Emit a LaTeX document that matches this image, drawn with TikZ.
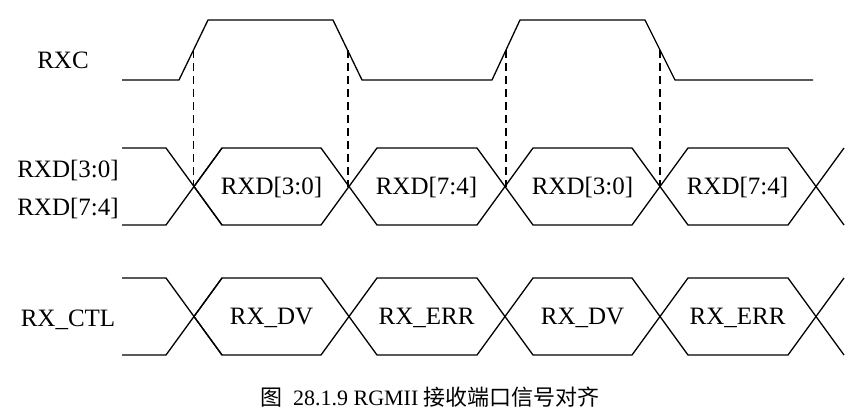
\documentclass[tikz,border=0pt]{standalone}
\usepackage{fontspec}
\setmainfont{Liberation Serif}
\newfontfamily\cjk{Noto Sans CJK SC}
\begin{document}
\begin{tikzpicture}[x=1pt,y=-1pt,line width=1.3pt,
  sig/.style={draw=black},
  guide/.style={draw=black,line width=1.3pt,dash pattern=on 8pt off 5pt},
  lbl/.style={font=\fontsize{25}{28}\selectfont,inner sep=0pt}]
\useasboundingbox (0,0) rectangle (859,420);
% RXC
\draw[sig] (122,80) -- (179,80) -- (208,20) -- (333,20) -- (362,80) -- (492,80) -- (520,20) -- (645,20) -- (675,80) -- (813,80);
\node[lbl] (rxc) at (63,60) {RXC};
\foreach \yt/\yb/\n in {148/225/d,278/355/c}{
  \pgfmathsetmacro\ym{(\yt+\yb)/2}
  \draw[sig] (122,\yt) -- (166,\yt) -- (222,\yb);
  \draw[sig] (122,\yb) -- (166,\yb) -- (222,\yt);
  \foreach \a/\b in {194/349,349/505,505/660,660/816}{
    \draw[sig] (\a,\ym) -- (\a+28,\yt) -- (\b-28,\yt) -- (\b,\ym) -- (\b-28,\yb) -- (\a+28,\yb) -- cycle;
  }
  \draw[sig] (816,\ym) -- (844,\yt);
  \draw[sig] (816,\ym) -- (844,\yb);
}
\foreach \x/\t [count=\i] in {194/RXD[3:0],349/RXD[7:4],505/RXD[3:0],660/RXD[7:4]}
  \node[lbl] (d\i) at (\x+77.5,187) {\t};
\foreach \x/\t [count=\i] in {194/RX\_DV,349/RX\_ERR,505/RX\_DV,660/RX\_ERR}
  \node[lbl] (c\i) at (\x+77.5,318) {\t};
\node[lbl] (rxd1) at (68,170) {RXD[3:0]};
\node[lbl] (rxd2) at (68,208) {RXD[7:4]};
\node[lbl] (rxctl) at (68,320) {RX\_CTL};
\draw[guide] (193.5,50) -- (193.5,187);
\draw[guide] (348,50) -- (348,187);
\draw[guide] (506,50) -- (506,187);
\draw[guide] (660,50) -- (660,187);
\node[font=\fontsize{22}{25}\selectfont,inner sep=0pt] (cap) at (430,397) {{\cjk 图}\ \ 28.1.9 RGMII {\cjk 接收端口信号对齐}};
\end{tikzpicture}
\end{document}
